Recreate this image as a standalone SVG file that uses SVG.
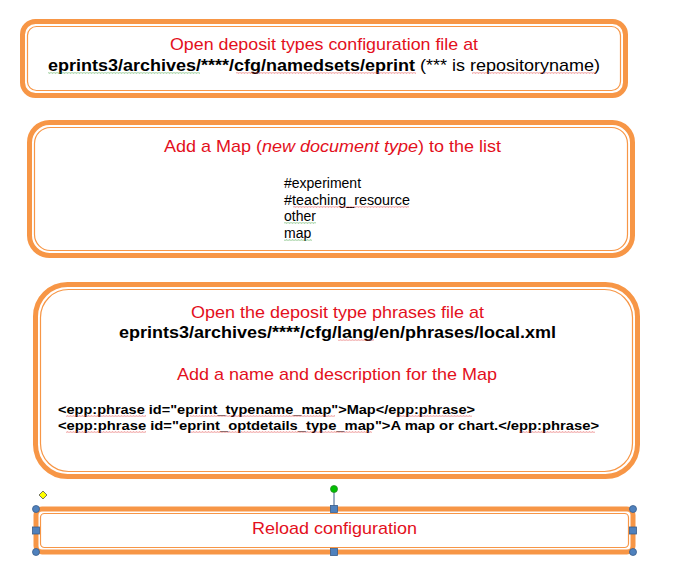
<svg xmlns="http://www.w3.org/2000/svg" width="674" height="578" viewBox="0 0 674 578">
<defs>
<pattern id="rsq" width="3" height="2" patternUnits="userSpaceOnUse"><path d="M0,1.6 L0.75,0.4 L1.5,1.6 L2.25,0.4 L3,1.6" stroke="#e04040" stroke-width="0.5" fill="none" opacity="0.8"/></pattern>
<pattern id="gsq" width="3" height="2" patternUnits="userSpaceOnUse"><path d="M0,1.6 L0.75,0.4 L1.5,1.6 L2.25,0.4 L3,1.6" stroke="#40a040" stroke-width="0.5" fill="none" opacity="0.8"/></pattern>
</defs>
<style>
.outer{fill:#fff;stroke:#f79646;stroke-width:5}
.inner{fill:none;stroke:#f79646;stroke-width:1.2}
text{font-family:"Liberation Sans",Arial,sans-serif}
.red{fill:#e3101c;font-size:17px}
.blk{fill:#000;font-size:17px}
.b{font-weight:bold}
.list{fill:#000;font-size:14px}
.code{fill:#000;font-size:13.5px;font-weight:bold}
.h{fill:#4f81bd;stroke:#385d8a;stroke-width:0.8}
.r{fill:url(#rsq)}
.g{fill:url(#gsq)}
</style>
<rect width="674" height="578" fill="#fff"/>
<g id="node1">
<rect class="outer" x="22.5" y="21.5" width="603" height="74" rx="13"/>
<rect class="inner" x="27.5" y="26.5" width="593" height="64" rx="9"/>
<text class="red" x="170" y="50" textLength="308" lengthAdjust="spacingAndGlyphs">Open deposit types configuration file at</text>
<text class="blk" x="48" y="71" textLength="552" lengthAdjust="spacingAndGlyphs"><tspan class="b">eprints3/archives/****/cfg/namedsets/eprint</tspan> (*** is repositoryname)</text>
<rect class="g" x="48" y="72" width="152" height="2"/>
<rect class="r" x="236" y="72" width="180" height="2"/>
<rect class="r" x="472" y="72" width="124" height="2"/>
</g>
<g id="node2">
<rect class="outer" x="29.5" y="122.5" width="603" height="133" rx="20"/>
<rect class="inner" x="34.5" y="127.5" width="593" height="123" rx="16"/>
<text class="red" x="164" y="152" textLength="337" lengthAdjust="spacingAndGlyphs">Add a Map (<tspan font-style="italic">new document type</tspan>) to the list</text>
<text class="list" x="284" y="188">#experiment</text>
<text class="list" x="284" y="205" textLength="126" lengthAdjust="spacingAndGlyphs">#teaching_resource</text>
<text class="list" x="284" y="221">other</text>
<text class="list" x="284" y="238">map</text>
<rect class="r" x="293" y="206" width="116" height="2"/>
<rect class="g" x="284" y="222" width="32" height="2"/>
<rect class="g" x="284" y="239" width="28" height="2"/>
</g>
<g id="node3">
<rect class="outer" x="35.5" y="284.5" width="602" height="192" rx="32"/>
<rect class="inner" x="40.5" y="289.5" width="592" height="182" rx="28"/>
<text class="red" x="191" y="318" textLength="293" lengthAdjust="spacingAndGlyphs">Open the deposit type phrases file at</text>
<text class="blk b" x="119" y="338" textLength="437" lengthAdjust="spacingAndGlyphs">eprints3/archives/****/cfg/lang/en/phrases/local.xml</text>
<rect class="r" x="338" y="339" width="36" height="2"/>
<text class="red" x="177" y="380" textLength="320" lengthAdjust="spacingAndGlyphs">Add a name and description for the Map</text>
<text class="code" x="58" y="414" textLength="417" lengthAdjust="spacingAndGlyphs">&lt;epp:phrase id="eprint_typename_map"&gt;Map&lt;/epp:phrase&gt;</text>
<text class="code" x="58" y="430" textLength="541" lengthAdjust="spacingAndGlyphs">&lt;epp:phrase id="eprint_optdetails_type_map"&gt;A map or chart.&lt;/epp:phrase&gt;</text>
<rect class="r" x="66" y="415" width="80" height="2"/>
<rect class="r" x="190" y="415" width="145" height="2"/>
<rect class="r" x="396" y="415" width="76" height="2"/>
<rect class="r" x="66" y="431" width="80" height="2"/>
<rect class="r" x="190" y="431" width="182" height="2"/>
<rect class="r" x="519" y="431" width="76" height="2"/>
</g>
<g id="node4">
<rect class="outer" x="36" y="509" width="597" height="43" rx="6"/>
<rect class="inner" x="40.5" y="513.5" width="588" height="34" rx="4"/>
<text class="red" x="252" y="534" textLength="165" lengthAdjust="spacingAndGlyphs">Reload configuration</text>
</g>
<g id="handles">
<line x1="334" y1="489" x2="334" y2="509" stroke="#385d8a" stroke-width="1"/>
<circle cx="334" cy="489" r="3.5" fill="#00c000" stroke="#2a8a2a" stroke-width="0.8"/>
<polygon points="43,491 47,495 43,499 39,495" fill="#ffff00" stroke="#555" stroke-width="0.8"/>
<circle class="h" cx="36" cy="509" r="3.5"/>
<circle class="h" cx="633" cy="509" r="3.5"/>
<circle class="h" cx="36" cy="552" r="3.5"/>
<circle class="h" cx="633" cy="552" r="3.5"/>
<rect class="h" x="330.5" y="505.5" width="7" height="7"/>
<rect class="h" x="330.5" y="548.5" width="7" height="7"/>
<rect class="h" x="32.5" y="527" width="7" height="7"/>
<rect class="h" x="629.5" y="527" width="7" height="7"/>
</g>
<g id="connectors"></g>
</svg>
